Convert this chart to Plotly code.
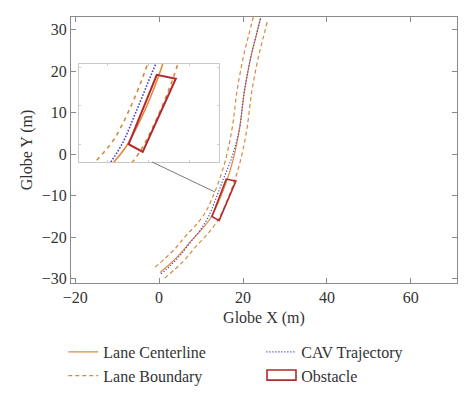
import plotly.graph_objects as go

# ---------------- data (metres) ----------------
center_x = [0.2, 2.5, 5.0, 7.5, 10.0, 12.3, 14.3, 16.2, 17.6, 18.6, 19.3, 19.8, 20.3, 21.0, 22.0, 23.0, 24.2]
center_y = [-28.5, -26.5, -24.0, -21.0, -18.3, -15.3, -11.2, -6.2, -1.5, 3.0, 7.0, 11.0, 15.0, 19.0, 24.0, 28.0, 32.8]

left_x = [-0.95, 1.30, 3.71, 6.18, 8.66, 10.80, 12.69, 14.54, 15.91, 16.88, 17.57, 18.06, 18.57, 19.28, 20.29, 21.30, 22.50]
left_y = [-27.18, -25.22, -22.82, -19.85, -17.17, -14.39, -10.51, -5.64, -1.06, 3.34, 7.26, 11.22, 15.26, 19.33, 24.38, 28.43, 33.23]

right_x = [1.35, 3.70, 6.30, 8.82, 11.34, 13.80, 15.91, 17.86, 19.29, 20.32, 21.03, 21.54, 22.03, 22.72, 23.71, 24.70, 25.90]
right_y = [-29.82, -27.78, -25.18, -22.15, -19.43, -16.21, -11.89, -6.76, -1.94, 2.66, 6.74, 10.78, 14.74, 18.67, 23.62, 27.58, 32.38]

traj_x = [0.46, 2.74, 5.19, 7.58, 9.85, 11.79, 13.47, 15.35, 17.12, 18.45, 19.3, 19.8, 20.3, 21.0, 22.0, 23.0, 24.2]
traj_y = [-28.80, -26.76, -24.17, -21.07, -18.17, -14.99, -10.85, -5.91, -1.37, 3.03, 7.0, 11.0, 15.0, 19.0, 24.0, 28.0, 32.8]

obs_x = [12.6, 16.0, 18.3, 14.3]
obs_y = [-15.0, -6.0, -6.5, -16.0]

x_ticks = [-20, 0, 20, 40, 60]
y_ticks = [-30, -20, -10, 0, 10, 20, 30]

# ---------------- styling ----------------
FONT = "Liberation Serif"
TXT = "#333333"
C_CENTER = "#E5893A"
C_BOUND = "#D38A3E"
C_TRAJ = "#4545C8"
C_OBS = "#B3282C"
FRAME = "#8a8a8a"

bound_x = left_x + [None] + right_x
bound_y = left_y + [None] + right_y

fig = go.Figure()


def add_set(xa, ya, lw, dash_b, dash_t, show):
    fig.add_trace(go.Scatter(x=bound_x, y=bound_y, mode="lines", name="Lane Boundary",
                             line=dict(color=C_BOUND, width=lw, dash=dash_b, shape="spline"),
                             xaxis=xa, yaxis=ya, showlegend=show, legendrank=3, hoverinfo="skip"))
    fig.add_trace(go.Scatter(x=center_x, y=center_y, mode="lines", name="Lane Centerline",
                             line=dict(color=C_CENTER, width=lw, shape="spline"),
                             xaxis=xa, yaxis=ya, showlegend=show, legendrank=1, hoverinfo="skip"))
    fig.add_trace(go.Scatter(x=traj_x, y=traj_y, mode="lines", name="CAV Trajectory",
                             line=dict(color=C_TRAJ, width=lw, dash=dash_t, shape="spline"),
                             xaxis=xa, yaxis=ya, showlegend=show, legendrank=2, hoverinfo="skip"))


add_set("x", "y", 1.2, "4px,3px", "1.2px,1.8px", True)
add_set("x2", "y2", 1.6, "4px,4px", "1.6px,1.6px", False)

# legend entry for the obstacle (its outlined-box symbol is drawn as a paper shape below)
fig.add_trace(go.Scatter(x=[None], y=[None], mode="lines", name="Obstacle",
                         line=dict(color="rgba(0,0,0,0)", width=0), legendrank=4,
                         hoverinfo="skip"))


def obs_path():
    pts = ["%s%g,%g" % ("M" if i == 0 else "L", x, y) for i, (x, y) in enumerate(zip(obs_x, obs_y))]
    return " ".join(pts) + " Z"


shapes = [
    dict(type="path", path=obs_path(), xref="x", yref="y", line=dict(color=C_OBS, width=1.6),
         fillcolor="rgba(255,255,255,0)"),
    dict(type="path", path=obs_path(), xref="x2", yref="y2", line=dict(color=C_OBS, width=2),
         fillcolor="rgba(255,255,255,0)"),
    # zoom connector
    dict(type="line", xref="paper", yref="paper", x0=0.21, y0=0.455, x1=0.373, y1=0.342,
         line=dict(color="#7a7a7a", width=1)),
    # obstacle legend symbol
    dict(type="rect", xref="paper", yref="paper", x0=0.5078, x1=0.5829, y0=-0.327, y1=-0.365,
         line=dict(color=C_OBS, width=1.6), fillcolor="rgba(255,255,255,0)"),
]

axis_common = dict(showgrid=False, zeroline=False, showline=True, linecolor=FRAME, linewidth=1,
                   mirror="ticks", ticks="inside", ticklen=5, tickcolor=FRAME, automargin=False,
                   tickfont=dict(family=FONT, size=16, color=TXT))

fig.update_layout(
    width=474, height=430,
    margin=dict(l=63, r=25, t=9, b=155),
    paper_bgcolor="white", plot_bgcolor="white",
    font=dict(family=FONT, size=16, color=TXT),
    xaxis=dict(range=[-21, 71], tickvals=x_ticks, domain=[0, 1],
               title=dict(text="Globe X (m)", font=dict(family=FONT, size=16, color=TXT), standoff=6),
               **axis_common),
    yaxis=dict(range=[-31, 33], tickvals=y_ticks, domain=[0, 1],
               title=dict(text="Globe Y (m)", font=dict(family=FONT, size=16, color=TXT), standoff=5),
               **axis_common),
    xaxis2=dict(domain=[0.0207, 0.383], anchor="y2", range=[6.6, 23.5], showticklabels=False,
                showgrid=False, zeroline=False, showline=True, linecolor="#c8c8c8", mirror="ticks",
                ticks="inside", ticklen=2, tickcolor="#d0d0d0", dtick=5),
    yaxis2=dict(domain=[0.455, 0.823], anchor="x2", range=[-17.3, -4.6], showticklabels=False,
                showgrid=False, zeroline=False, showline=True, linecolor="#c8c8c8", mirror="ticks",
                ticks="inside", ticklen=2, tickcolor="#d0d0d0", dtick=5),
    legend=dict(orientation="h", x=-0.02, xanchor="left", y=-0.1955, yanchor="top",
                entrywidth=153, entrywidthmode="pixels", traceorder="normal",
                font=dict(family=FONT, size=16, color=TXT), bgcolor="rgba(0,0,0,0)",
                tracegroupgap=0),
    shapes=shapes,
)

fig.write_html("out.html")
